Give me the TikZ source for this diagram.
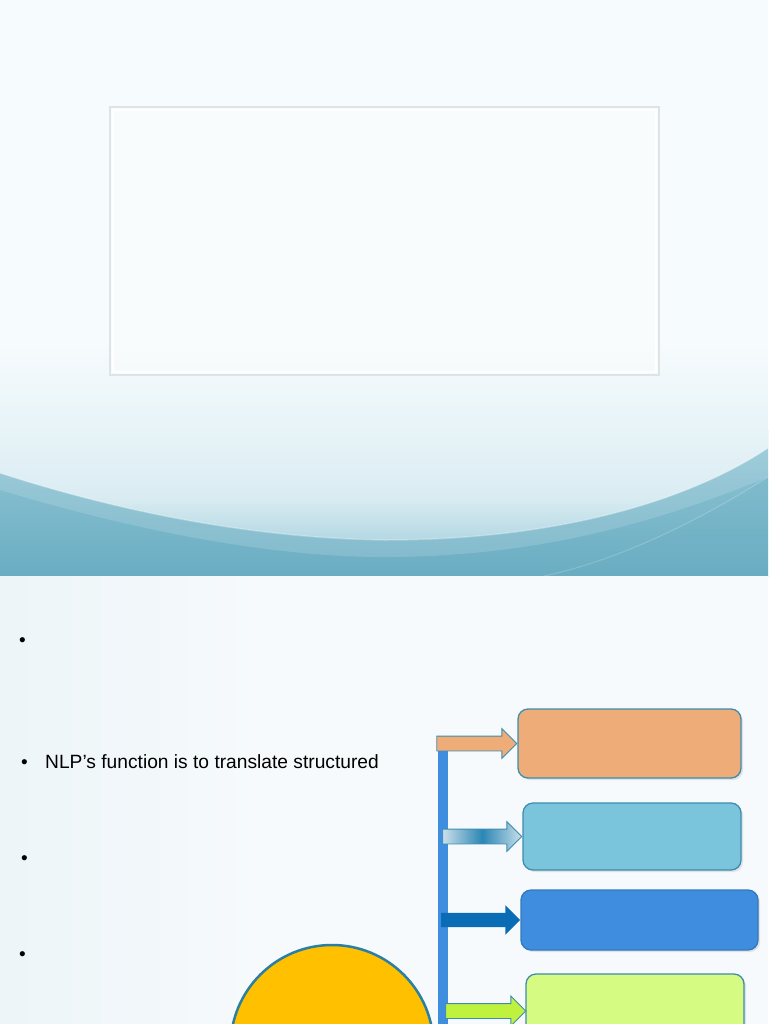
\documentclass[tikz,border=0pt]{standalone}
\usepackage{fontspec}
\setmainfont{Liberation Sans}
\usetikzlibrary{shapes.arrows,shadows}

\definecolor{skytop}{HTML}{F6FBFD}
\definecolor{skymid}{HTML}{E3F1F6}
\definecolor{skylow}{HTML}{B4D8E3}
\definecolor{tealhi}{HTML}{93C7D6}
\definecolor{teallo}{HTML}{6AADC2}
\definecolor{pagebg}{HTML}{F6FAFC}
\definecolor{pageleft}{HTML}{EDF5F8}
\definecolor{framegray}{HTML}{DEE3E5}
\definecolor{edgeblue}{HTML}{3F8CAF}
\definecolor{boxorange}{HTML}{EDAC78}
\definecolor{boxsky}{HTML}{7AC5DC}
\definecolor{boxblue}{HTML}{3F8DDF}
\definecolor{boxlime}{HTML}{D6FB82}
\definecolor{arrowblue}{HTML}{0B6CB6}
\definecolor{arrowmid}{HTML}{2B86B5}
\definecolor{arrowpale}{HTML}{CADFEA}
\definecolor{arrowlime}{HTML}{BEF23E}
\definecolor{sunyellow}{HTML}{FFC000}
\definecolor{ringblue}{HTML}{2A7FA2}

\pgfdeclareverticalshading{dome}{100bp}{color(0bp)=(skylow); color(25bp)=(skylow);
  color(29bp)=(skymid!80!skylow); color(33bp)=(skymid); color(43bp)=(skytop); color(100bp)=(skytop)}

\tikzset{
  box/.style={draw=edgeblue, line width=1.3pt, rounded corners=10pt, inner sep=0,
    drop shadow={opacity=0.18, shadow xshift=2pt, shadow yshift=-2pt}},
  blockarrow/.style={single arrow, single arrow head extend=7.5pt, inner xsep=0,
    inner ysep=7pt, minimum height=80pt, anchor=tip},
  bullet/.style={anchor=base west, inner sep=0, font=\fontsize{19}{23}\selectfont},
  bodytext/.style={anchor=base west, inner sep=0, font=\fontsize{19.2}{23}\selectfont}
}

\begin{document}
\begin{tikzpicture}[x=1pt,y=-1pt]
\useasboundingbox (0,0) rectangle (768,1024);
\clip (0,0) rectangle (768,1024);

% title slide background
\fill[teallo] (0,0) rectangle (768,576);
\shade[top color=tealhi, bottom color=teallo] (0,430) rectangle (768,576);
\fill[white, opacity=0.15] (0,490) .. controls (150,535) and (280,557) .. (384,557)
  .. controls (520,557) and (640,530) .. (768,477) -- (768,440) -- (0,440) -- cycle;
\fill[teallo, opacity=0.2] (768,477) .. controls (700,520) and (620,560) .. (544,576)
  -- (768,576) -- cycle;
\draw[white, opacity=0.2, line width=1pt] (768,477) .. controls (700,520) and (620,560) .. (544,576);
\shade[shading=dome] (0,473) .. controls (130,515) and (260,538) .. (384,540)
  .. controls (560,540) and (690,500) .. (768,448) -- (768,0) -- (0,0) -- cycle;
\draw[white, opacity=0.25, line width=1.5pt] (0,473) .. controls (130,515) and (260,538) .. (384,540)
  .. controls (560,540) and (690,500) .. (768,448);

\node[draw=framegray, line width=2.5pt, fill=white, fill opacity=0.3,
  minimum width=549pt, minimum height=268pt, inner sep=0] (frame) at (384.5,241) {};
\node[draw=white, line width=1.2pt, minimum width=543pt, minimum height=262pt, inner sep=0]
  (frameinner) at (frame) {};

% second slide
\fill[pagebg] (0,576) rectangle (768,1024);
\shade[left color=pageleft, right color=pagebg] (0,576) rectangle (260,1024);

\node[bullet] (b1) at (19,646.5) {•};
\node[bullet] (b2) at (21,768) {•};
\node[bullet] (b3) at (21,864.5) {•};
\node[bullet] (b4) at (19,960.5) {•};
\node[bodytext] (nlp) at (45,768) {NLP’s function is to translate structured};

\node[circle, fill=sunyellow, draw=ringblue, line width=2.5pt, minimum size=203pt,
  inner sep=0] (sun) at (332,1046.5) {};

\node[fill=boxblue, minimum width=10pt, minimum height=300pt, inner sep=0,
  anchor=north] (bar) at (443,737) {};

\node[box, fill=boxorange, minimum width=223pt, minimum height=69pt] (orangebox) at (629.5,743.5) {};
\node[box, fill=boxsky, minimum width=218pt, minimum height=67pt] (skybox) at (632,836.5) {};
\node[box, fill=boxblue, draw=boxblue!85!black, minimum width=237pt, minimum height=60pt] (bluebox) at (639.5,920) {};
\node[box, fill=boxlime, minimum width=218pt, minimum height=74pt] (limebox) at (635,1011) {};

\node[blockarrow, fill=boxorange, draw=edgeblue, line width=0.8pt] (orangearrow) at (orangebox.west) {};
\node[blockarrow, left color=arrowpale, right color=arrowpale, middle color=arrowmid,
  draw=edgeblue, line width=0.8pt, minimum height=79pt] (skyarrow) at (skybox.west) {};
\node[blockarrow, fill=arrowblue, minimum height=79pt] (bluearrow) at (bluebox.west) {};
\node[blockarrow, fill=arrowlime, draw=edgeblue, line width=0.8pt] (limearrow) at ([xshift=1pt]limebox.west) {};
\end{tikzpicture}
\end{document}
